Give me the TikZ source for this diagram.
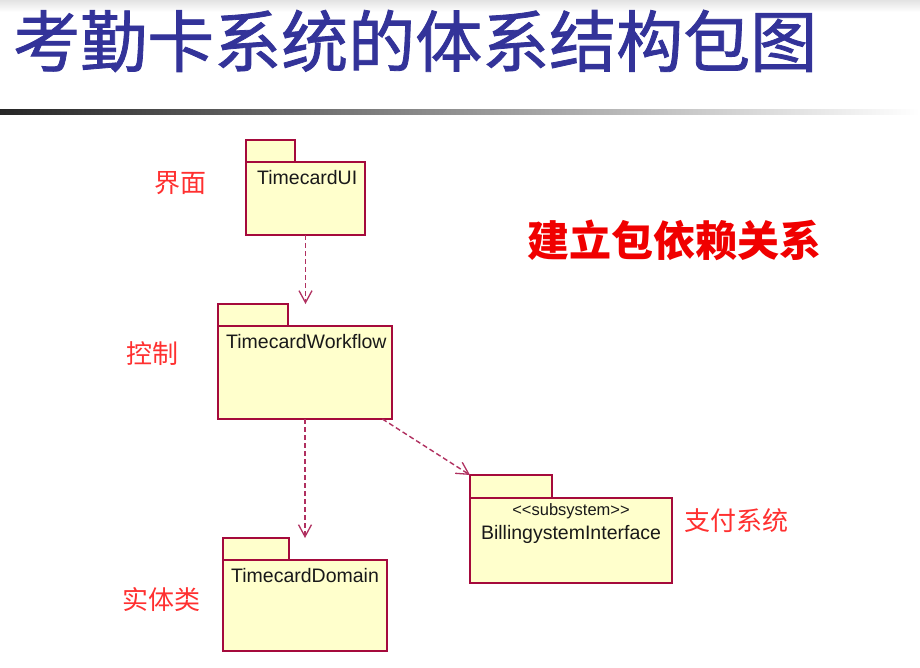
\documentclass[tikz,border=0pt]{standalone}
\usepackage{fontspec}
\setmainfont{Liberation Sans}
\newfontfamily\cjk{Noto Sans CJK SC}
\newfontfamily\cjktitle[FakeBold=1.2]{Noto Sans CJK SC}
\usetikzlibrary{arrows.meta,calc}
\definecolor{titleblue}{RGB}{51,51,153}
\definecolor{pkgfill}{RGB}{255,255,204}
\definecolor{pkgline}{RGB}{165,10,60}
\definecolor{depline}{RGB}{176,48,96}
\definecolor{lblred}{RGB}{255,48,48}
\definecolor{bigred}{RGB}{240,0,0}
\tikzset{
  pkgbody/.style={draw=pkgline, fill=pkgfill, line width=1.2pt, inner sep=0pt, outer sep=0pt, anchor=north west},
  pkgtab/.style={draw=pkgline, fill=pkgfill, line width=1.2pt, inner sep=0pt, outer sep=0pt, anchor=south west, minimum height=22pt},
  pkgtext/.style={inner sep=0pt, anchor=base west, font=\fontsize{19.5}{22}\selectfont, text=black!90},
  sublbl/.style={inner sep=0pt, anchor=base, font=\fontsize{16.5}{18}\selectfont, text=black!90},
  zhlbl/.style={inner sep=0pt, font=\cjk\fontsize{26}{30}\selectfont, text=lblred},
  dep/.style={draw=depline, line width=1.4pt, dash pattern=on 5pt off 3pt, -{Straight Barb[length=12pt,width=13pt,line width=1.3pt]}}
}
\begin{document}
\begin{tikzpicture}[x=1pt,y=-1pt]
\useasboundingbox (0,0) rectangle (920,668);
\fill[white] (0,0) rectangle (920,668);
% header
\shade[top color=gray!22, bottom color=white] (0,0) rectangle (920,12);
\shade[left color=black!85, right color=white] (0,110) rectangle (920,115);
\node[inner sep=0pt, anchor=west, text=titleblue, font=\cjktitle\fontsize{67}{70}\selectfont] (title) at (13,41) {考勤卡系统的体系结构包图};

% packages
\node[pkgbody, minimum width=119pt, minimum height=73pt] (ui) at (246,162) {};
\node[pkgtab, minimum width=49pt] (uiT) at (ui.north west) {};
\node[pkgtext] (uiL) at ($(ui.north west)+(11,23)$) {TimecardUI};

\node[pkgbody, minimum width=174pt, minimum height=93pt] (wf) at (218,326) {};
\node[pkgtab, minimum width=70pt] (wfT) at (wf.north west) {};
\node[pkgtext] (wfL) at ($(wf.north west)+(8,22)$) {TimecardWorkflow};

\node[pkgbody, minimum width=164pt, minimum height=91pt] (dm) at (223,560) {};
\node[pkgtab, minimum width=66pt] (dmT) at (dm.north west) {};
\node[pkgtext] (dmL) at ($(dm.north west)+(8,22)$) {TimecardDomain};

\node[pkgbody, minimum width=202pt, minimum height=85pt] (bi) at (470,498) {};
\node[pkgtab, minimum width=82pt, minimum height=23pt] (biT) at (bi.north west) {};
\node[sublbl] (biS) at ($(bi.north)+(0,17)$) {<{}<subsystem>{}>};
\node[pkgtext, anchor=base] (biL) at ($(bi.north)+(0,41)$) {BillingystemInterface};

% dependencies
\draw[dep] (ui.south) -- (ui.south |- wfT.north);
\draw[dep] (wf.south) -- (wf.south |- dmT.north);
\draw[dep] (wf.-31.8) -- (biT.north west);

% labels
\node[zhlbl] (l1) at (180,183) {界面};
\node[zhlbl] (l2) at (152,354) {控制};
\node[zhlbl] (l3) at (161,600) {实体类};
\node[zhlbl] (l4) at (736,521) {支付系统};
\node[inner sep=0pt, text=bigred, font=\cjk\bfseries\fontsize{42}{46}\selectfont] (big) at (674,240) {建立包依赖关系};
\end{tikzpicture}
\end{document}
